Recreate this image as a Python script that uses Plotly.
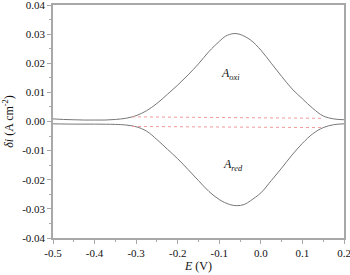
import plotly.graph_objects as go

# ---- data ----
E_oxi = [-0.5, -0.475, -0.45, -0.425, -0.4, -0.375, -0.35, -0.325, -0.3, -0.275, -0.25, -0.225,
         -0.2, -0.175, -0.15, -0.125, -0.1, -0.085, -0.065, -0.05, -0.025, 0.0, 0.025, 0.05,
         0.075, 0.1, 0.125, 0.15, 0.175, 0.2]
i_oxi = [0.0009, 0.0007, 0.0006, 0.0005, 0.0005, 0.0005, 0.0007, 0.0011, 0.0020, 0.0037, 0.0062, 0.0093,
         0.0125, 0.0160, 0.0198, 0.0240, 0.0275, 0.0293, 0.0302, 0.0299, 0.0280, 0.0245, 0.0200, 0.0155,
         0.0112, 0.0078, 0.0045, 0.0019, 0.0009, 0.0006]

E_red = [-0.5, -0.45, -0.4, -0.35, -0.325, -0.3, -0.275, -0.25, -0.225, -0.2, -0.175, -0.15,
         -0.125, -0.1, -0.075, -0.058, -0.04, -0.025, 0.0, 0.025, 0.05, 0.075, 0.1, 0.125,
         0.15, 0.175, 0.2]
i_red = [-0.0008, -0.0009, -0.0009, -0.0010, -0.0012, -0.0018, -0.0033, -0.0062, -0.0095, -0.0128, -0.0165, -0.0203,
         -0.0240, -0.0268, -0.0285, -0.0289, -0.0285, -0.0272, -0.0245, -0.0203, -0.0160, -0.0115, -0.0075, -0.0042,
         -0.0021, -0.0011, -0.0008]

E_base_oxi = [-0.31, 0.15]
i_base_oxi = [0.0016, 0.0011]
E_base_red = [-0.31, 0.148]
i_base_red = [-0.0017, -0.0021]

x_ticks = [-0.5, -0.4, -0.3, -0.2, -0.1, 0.0, 0.1, 0.2]
x_labels = ["-0.5", "-0.4", "-0.3", "-0.2", "-0.1", "0.0", "0.1", "0.2"]
y_ticks = [-0.04, -0.03, -0.02, -0.01, 0.0, 0.01, 0.02, 0.03, 0.04]
y_labels = ["-0.04", "-0.03", "-0.02", "-0.01", "0.00", "0.01", "0.02", "0.03", "0.04"]

FONT = "Liberation Serif, DejaVu Serif, serif"
AXC = "#a8a8a8"
LINEC = "#777777"

fig = go.Figure()
fig.add_trace(go.Scatter(x=E_oxi, y=i_oxi, mode="lines", line=dict(color=LINEC, width=1, shape="spline"), showlegend=False))
fig.add_trace(go.Scatter(x=E_red, y=i_red, mode="lines", line=dict(color=LINEC, width=1, shape="spline"), showlegend=False))
fig.add_trace(go.Scatter(x=E_base_oxi, y=i_base_oxi, mode="lines", line=dict(color="#f29a9a", width=1, dash="dot"), showlegend=False))
fig.add_trace(go.Scatter(x=E_base_red, y=i_base_red, mode="lines", line=dict(color="#f29a9a", width=1, dash="dot"), showlegend=False))

fig.add_annotation(x=-0.072, y=0.0162, text="<i>A<sub>oxi</sub></i>", showarrow=False,
                   font=dict(family=FONT, size=12, color="#111"))
fig.add_annotation(x=-0.068, y=-0.0148, text="<i>A<sub>red</sub></i>", showarrow=False,
                   font=dict(family=FONT, size=12, color="#111"))

fig.update_layout(
    width=350, height=275,
    margin=dict(l=53, r=6, t=5, b=37, autoexpand=False),
    paper_bgcolor="white", plot_bgcolor="white",
    font=dict(family=FONT, size=11, color="#111"),
)
fig.update_xaxes(
    range=[-0.5, 0.2], tickvals=x_ticks, ticktext=x_labels,
    automargin=False, ticklabeloverflow="allow",
    tickfont=dict(family=FONT, size=11),
    showgrid=False, zeroline=False,
    showline=True, linecolor=AXC, linewidth=1.5, mirror=True,
    ticks="outside", ticklen=4, tickcolor=AXC, tickwidth=1,
    minor=dict(ticks="outside", ticklen=2, tickcolor=AXC, dtick=0.05, tick0=0),
    title=dict(text="<i>E</i> (V)", font=dict(family=FONT, size=12), standoff=4),
)
fig.update_yaxes(
    range=[-0.04, 0.04], tickvals=y_ticks, ticktext=y_labels,
    automargin=False, ticklabeloverflow="allow",
    tickfont=dict(family=FONT, size=11),
    showgrid=False, zeroline=False,
    showline=True, linecolor=AXC, linewidth=1.5, mirror=True,
    ticks="outside", ticklen=4, tickcolor=AXC, tickwidth=1,
    minor=dict(ticks="outside", ticklen=2, tickcolor=AXC, dtick=0.005, tick0=0),
    title=dict(text="<i>δi</i> (A cm<sup>-2</sup>)", font=dict(family=FONT, size=12), standoff=6),
)

fig.write_html("out.html", config={"displayModeBar": False},
               post_script="document.body.style.margin='0';")
